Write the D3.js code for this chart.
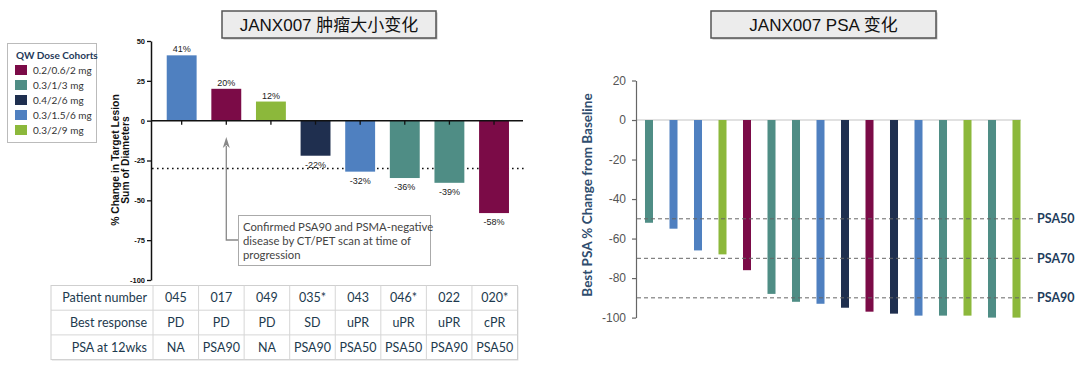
<!DOCTYPE html>
<html><head><meta charset="utf-8">
<script src="https://cdn.jsdelivr.net/npm/d3@7"></script>
<style>
html,body{margin:0;padding:0;background:#fff;}
svg{display:block;}
</style></head>
<body>
<svg id="c" width="1080" height="376"></svg>
<script>
// ---------- DATA ----------
const cohorts = ["0.2/0.6/2 mg","0.3/1/3 mg","0.4/2/6 mg","0.3/1.5/6 mg","0.3/2/9 mg"];
const cohortColors = ["#7b0b47","#4f8d85","#1f2f4f","#4f80c0","#8cb83b"];

const leftPatients = ["045","017","049","035*","043","046*","022","020*"];
const leftValues = [41,20,12,-22,-32,-36,-39,-58];
const leftCohort = [3,0,4,2,3,1,1,0];
const leftTicks = [50,25,0,-25,-50,-75,-100];

const tableRowLabels = ["Patient number","Best response","PSA at 12wks"];
const bestResponse = ["PD","PD","PD","SD","uPR","uPR","uPR","cPR"];
const psa12 = ["NA","PSA90","NA","PSA90","PSA50","PSA50","PSA90","PSA50"];

const rightValues = [-52,-55,-66,-68,-76,-88,-92,-93,-95,-97,-98,-99,-99,-99,-100,-100];
const rightCohort = [1,3,3,4,0,1,1,3,2,0,2,3,1,4,1,4];
const rightTicks = [20,0,-20,-40,-60,-80,-100];
const psaThresholds = [-50,-70,-90];
const psaLabels = ["PSA50","PSA70","PSA90"];

// ---------- SETUP ----------
const svg = d3.select("#c");
const sans = "'Liberation Sans', Arial, sans-serif";
const cal = "Lato, 'Open Sans', sans-serif";
const cjk = "'Liberation Sans', 'Noto Sans CJK SC', sans-serif";
const hyph = d => String(d);

function titleBox(x0,x1,y0,y1,text){
  svg.append("rect").attr("x",x0+1.5).attr("y",y0+1.5).attr("width",x1-x0).attr("height",y1-y0).attr("fill","#bdbdbd");
  svg.append("rect").attr("x",x0).attr("y",y0).attr("width",x1-x0).attr("height",y1-y0)
    .attr("fill","#ececec").attr("stroke","#555").attr("stroke-width",1.5);
  svg.append("text").attr("x",(x0+x1)/2).attr("y",(y0+y1)/2+6).attr("text-anchor","middle")
    .attr("font-family",cjk).attr("font-size",17).attr("fill","#111").text(text);
}
titleBox(222,436,11,38,"JANX007 肿瘤大小变化");
titleBox(711,936,11,38,"JANX007 PSA 变化");

// ---------- LEGEND ----------
const lg = svg.append("g");
lg.append("rect").attr("x",7.5).attr("y",43.5).attr("width",89).attr("height",99).attr("fill","#fff").attr("stroke","#bbb");
lg.append("text").attr("x",16).attr("y",59).attr("font-family",cal).attr("font-weight","bold").attr("font-size",10)
  .attr("fill","#1f3a5a").text("QW Dose Cohorts");
cohorts.forEach((c,i)=>{
  const cy = 70 + i*15;
  lg.append("rect").attr("x",15).attr("y",cy-5).attr("width",12).attr("height",10).attr("fill",cohortColors[i]);
  lg.append("text").attr("x",33).attr("y",cy+3.5).attr("font-family",cal).attr("font-size",10).attr("fill","#333").text(c);
});

// ---------- LEFT CHART ----------
const yL = d3.scaleLinear().domain([-100,50]).range([280,41]);
const xL = d3.scaleBand().domain(leftPatients).range([152,523.7]).paddingInner(0.33).paddingOuter(0.33);

svg.append("line").attr("x1",152).attr("x2",524).attr("y1",yL(-30)).attr("y2",yL(-30))
  .attr("stroke","#111").attr("stroke-width",1.6).attr("stroke-dasharray","1.6,3.4");

svg.append("g").selectAll("rect").data(leftValues).join("rect")
  .attr("x",(d,i)=>xL(leftPatients[i])).attr("width",xL.bandwidth())
  .attr("y",d=>yL(Math.max(0,d))).attr("height",d=>Math.abs(yL(d)-yL(0)))
  .attr("fill",(d,i)=>cohortColors[leftCohort[i]]);

svg.append("g").selectAll("text").data(leftValues).join("text")
  .attr("x",(d,i)=>xL(leftPatients[i])+xL.bandwidth()/2)
  .attr("y",d=> d>=0 ? yL(d)-3 : yL(d)+12)
  .attr("text-anchor","middle").attr("font-family",sans).attr("font-size",9).attr("fill","#222")
  .text(d=>d+"%");

const axL = svg.append("g").attr("transform","translate(151,0)")
  .call(d3.axisLeft(yL).tickValues(leftTicks).tickFormat(hyph).tickSize(4).tickSizeOuter(0).tickPadding(2));
axL.select(".domain").attr("stroke","#111").attr("stroke-width",1.5);
axL.selectAll(".tick line").attr("stroke","#111").attr("stroke-width",1.3);
axL.selectAll(".tick text").attr("font-family",sans).attr("font-weight","bold").attr("font-size",7.5).attr("fill","#111");

const axLx = svg.append("g").attr("transform",`translate(0,${yL(0)})`)
  .call(d3.axisBottom(xL).tickSize(4).tickSizeOuter(0).tickFormat(""));
axLx.select(".domain").attr("stroke","#111").attr("stroke-width",1.5).attr("d","M151,0H523");
axLx.selectAll(".tick line").attr("stroke","#111").attr("stroke-width",1.3);

const yLab = svg.append("text").attr("transform","translate(118.5,160) rotate(-90)")
  .attr("text-anchor","middle").attr("font-family",sans).attr("font-weight","bold").attr("font-size",10.3).attr("fill","#111");
yLab.append("tspan").attr("x",0).attr("dy",0).text("% Change in  Target Lesion");
yLab.append("tspan").attr("x",0).attr("dy",10.5).text("Sum of  Diameters");

// arrow annotation
const ax = xL(leftPatients[1]) + xL.bandwidth()/2;
svg.append("path").attr("d",`M${ax},146 V240 H238`).attr("fill","none").attr("stroke","#888").attr("stroke-width",1.3);
svg.append("path").attr("d",`M${ax},137 L${ax-3.5},148 L${ax},145 L${ax+3.5},148 Z`).attr("fill","#888");
svg.append("rect").attr("x",238.5).attr("y",215.5).attr("width",192).attr("height",50).attr("fill","#fff").attr("stroke","#aaa");
["Confirmed PSA90 and PSMA-negative","disease by CT/PET scan at time of","progression"].forEach((t,i)=>{
  svg.append("text").attr("x",243).attr("y",230.5+i*14.3).attr("font-family",cal).attr("font-size",11.3).attr("fill","#444").text(t);
});

// table
const tx0 = 51, tx1 = 517.5, ty0 = 285.5, rowH = 24.7, labW = 102;
const colW = (tx1 - tx0 - labW)/leftPatients.length;
const tg = svg.append("g");
tg.append("rect").attr("x",tx0+1).attr("y",ty0+1).attr("width",tx1-tx0).attr("height",rowH*3).attr("fill","#e4e4e4");
tg.append("rect").attr("x",tx0).attr("y",ty0).attr("width",tx1-tx0).attr("height",rowH*3).attr("fill","#fff").attr("stroke","#cfcfcf");
for(let r=1;r<3;r++) tg.append("line").attr("x1",tx0).attr("x2",tx1).attr("y1",ty0+r*rowH).attr("y2",ty0+r*rowH).attr("stroke","#d6d6d6");
for(let c=0;c<leftPatients.length;c++) tg.append("line").attr("x1",tx0+labW+c*colW).attr("x2",tx0+labW+c*colW).attr("y1",ty0).attr("y2",ty0+rowH*3).attr("stroke","#d6d6d6");
const rows = [leftPatients,bestResponse,psa12];
rows.forEach((row,r)=>{
  const yy = ty0 + r*rowH + rowH/2 + 4.5;
  tg.append("text").attr("x",tx0+labW-6).attr("y",yy).attr("text-anchor","end").attr("font-family",cal).attr("font-size",12.5).attr("fill","#1d3a4e").text(tableRowLabels[r]);
  row.forEach((v,c)=>{
    tg.append("text").attr("x",tx0+labW+c*colW+colW/2).attr("y",yy).attr("text-anchor","middle").attr("font-family",cal).attr("font-size",12.5).attr("fill","#1d3a4e").text(v);
  });
});

// ---------- RIGHT CHART ----------
const yR = d3.scaleLinear().domain([-100,20]).range([317.6,80.5]);
const xR = d3.scaleBand().domain(d3.range(rightValues.length)).range([636,1029.5]).paddingInner(0.673).paddingOuter(0.367);

svg.append("line").attr("x1",636).attr("x2",1021).attr("y1",yR(0)).attr("y2",yR(0)).attr("stroke","#c4c4c4").attr("stroke-width",1.2);

svg.append("g").selectAll("rect").data(rightValues).join("rect")
  .attr("x",(d,i)=>xR(i)).attr("width",xR.bandwidth())
  .attr("y",yR(0)).attr("height",d=>yR(d)-yR(0))
  .attr("fill",(d,i)=>cohortColors[rightCohort[i]]);

psaThresholds.forEach((t,i)=>{
  svg.append("line").attr("x1",637).attr("x2",1033).attr("y1",yR(t)).attr("y2",yR(t))
    .attr("stroke","#666").attr("stroke-width",1).attr("stroke-dasharray","4,3");
  svg.append("text").attr("x",1037).attr("y",yR(t)+4.5).attr("font-family",cal).attr("font-weight","bold")
    .attr("font-size",12.5).attr("fill","#1f3d5c").text(psaLabels[i]);
});

const axR = svg.append("g").attr("transform","translate(636,0)")
  .call(d3.axisLeft(yR).tickValues(rightTicks).tickFormat(hyph).tickSize(4).tickSizeOuter(0).tickPadding(6));
axR.select(".domain").attr("stroke","#666").attr("stroke-width",1.2);
axR.selectAll(".tick line").attr("stroke","#666").attr("stroke-width",1.2);
axR.selectAll(".tick text").attr("font-family",sans).attr("font-size",12).attr("fill","#555");

svg.append("text").attr("transform","translate(592,195) rotate(-90)").attr("text-anchor","middle")
  .attr("font-family",cal).attr("font-weight","bold").attr("font-size",13.5).attr("fill","#2f4d6e")
  .text("Best PSA % Change from Baseline");
</script>
</body></html>
